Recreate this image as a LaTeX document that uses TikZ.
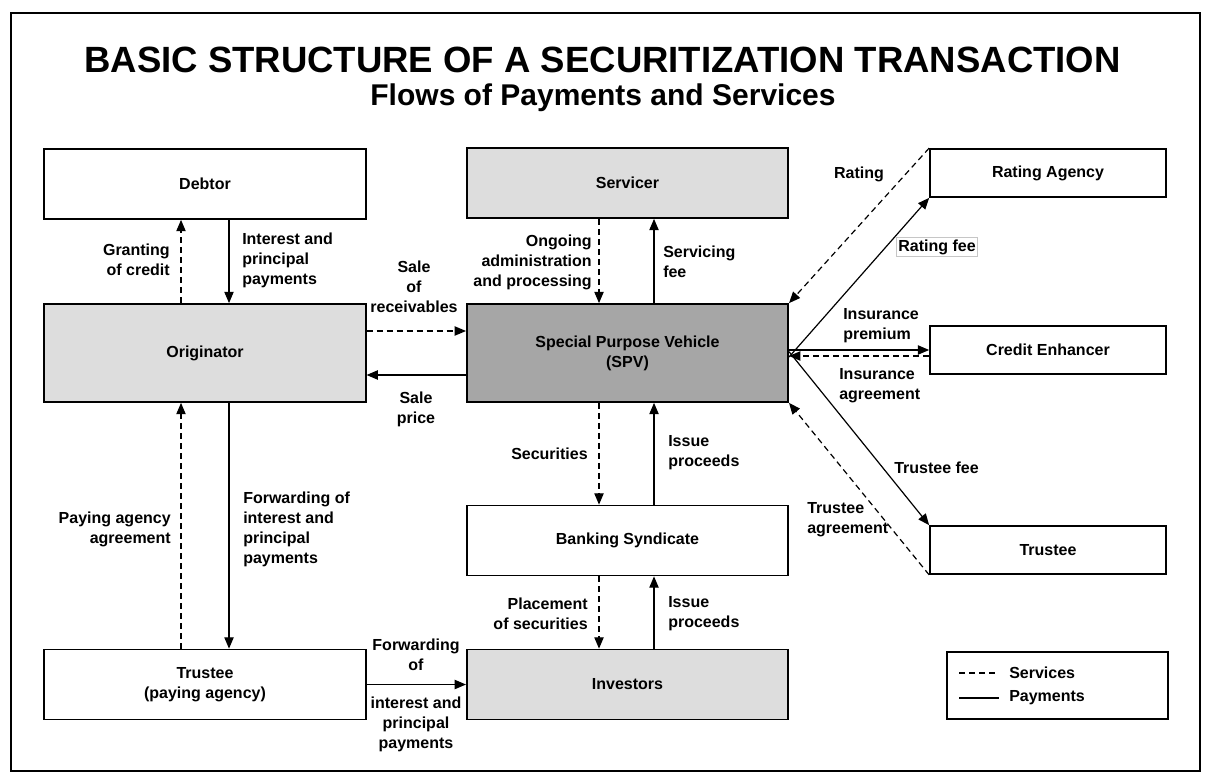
\documentclass[tikz,border=0pt]{standalone}
\usepackage{fontspec}
\setmainfont{Liberation Sans}
\usetikzlibrary{arrows.meta,calc}

\definecolor{lightfill}{RGB}{221,221,221}
\definecolor{darkfill}{RGB}{166,166,166}

\begin{document}
\begin{tikzpicture}[
    x=0.75pt, y=-0.75pt,
    txt/.style={font=\bfseries\fontsize{12}{15}\selectfont, inner sep=0pt},
    box/.style={txt, draw, line width=1.3pt, align=center, fill=white},
    wide/.style={box, minimum width=241pt, minimum height=52.5pt},
    tall/.style={box, minimum width=241pt, minimum height=73.5pt},
    small/.style={box, minimum width=177pt, minimum height=36pt},
    pay/.style={line width=0.9pt, -{Triangle[length=8.5pt, width=7pt]}},
    svc/.style={pay, dash pattern=on 4.5pt off 3pt},
    lbl/.style={txt},
]
\useasboundingbox (0,0) rectangle (1210,784);

% =========================================================
% FRAME AND TITLES
% =========================================================
\draw[line width=1.9pt] (11,13) rectangle (1200,771);
\node[font=\bfseries\fontsize{27.4}{32}\selectfont] (title) at (602.5,60)
      {BASIC STRUCTURE OF A SECURITIZATION TRANSACTION};
\node[font=\bfseries\fontsize{22.5}{26}\selectfont] (subtitle) at (603,98)
      {Flows of Payments and Services};

% =========================================================
% BOXES
% =========================================================
\node[wide] (debtor) at (205,184) {Debtor};
\node[wide, fill=lightfill] (servicer) at (627.5,183) {Servicer};
\node[tall, fill=lightfill] (orig) at (205,353) {Originator};
\node[tall, fill=darkfill] (spv) at (627.5,353) {Special Purpose Vehicle\\(SPV)};
\node[wide] (bank) at (627.5,540.5) {Banking Syndicate};
\node[wide] (trpay) at (205,684.5) {Trustee\\(paying agency)};
\node[wide, fill=lightfill] (invest) at (627.5,684.5) {Investors};

\node[small] (rating) at (1048,173) {Rating Agency};
\node[small] (enh) at (1048,350) {Credit Enhancer};
\node[small] (trustee) at (1048,550) {Trustee};

% columns and rows of the straight connectors
\coordinate (xa) at (181,0);
\coordinate (xb) at (229,0);
\coordinate (xc) at (599,0);
\coordinate (xd) at (654,0);
\coordinate (ya) at (0,331);
\coordinate (yb) at (0,375);
\coordinate (yc) at (0,350);
\coordinate (yd) at (0,356);

% =========================================================
% LEFT COLUMN
% =========================================================
\draw[svc] (orig.north -| xa) -- (debtor.south -| xa);
\draw[pay] (debtor.south -| xb) -- (orig.north -| xb);
\node[lbl, anchor=east, align=right] (granting) at (170,260) {Granting\\of credit};
\node[lbl, anchor=west, align=left] (intpay) at (242,260) {Interest and\\principal\\payments};

\draw[svc] (trpay.north -| xa) -- (orig.south -| xa);
\draw[pay] (orig.south -| xb) -- (trpay.north -| xb);
\node[lbl, anchor=east, align=right] (payagr) at (171,529) {Paying agency\\agreement};
\node[lbl, anchor=west, align=left] (fwd) at (243,529)
      {Forwarding of\\interest and\\principal\\payments};

% =========================================================
% ORIGINATOR <-> SPV, TRUSTEE -> INVESTORS
% =========================================================
\draw[svc] (orig.east |- ya) -- (spv.west |- ya);
\draw[pay] (spv.west |- yb) -- (orig.east |- yb);
\node[lbl, align=center] (sale) at (414,287) {Sale\\of\\receivables};
\node[lbl, align=center] (price) at (416,409) {Sale\\price};

\draw[pay] (trpay.east) -- (invest.west);
\node[lbl, align=center] (fwdof) at (416,655) {Forwarding\\of};
\node[lbl, align=center] (fwdint) at (416,724) {interest and\\principal\\payments};

% =========================================================
% MIDDLE COLUMN
% =========================================================
\draw[svc] (servicer.south -| xc) -- (spv.north -| xc);
\draw[pay] (spv.north -| xd) -- (servicer.south -| xd);
\node[lbl, anchor=east, align=right] (ongoing) at (592,262)
      {Ongoing\\administration\\and processing};
\node[lbl, anchor=west, align=left] (servfee) at (663,262) {Servicing\\fee};

\draw[svc] (spv.south -| xc) -- (bank.north -| xc);
\draw[pay] (bank.north -| xd) -- (spv.south -| xd);
\node[lbl, anchor=east] (secur) at (588,454) {Securities};
\node[lbl, anchor=west, align=left] (issue1) at (668,453) {Issue\\proceeds};

\draw[svc] (bank.south -| xc) -- (invest.north -| xc);
\draw[pay] (invest.north -| xd) -- (bank.south -| xd);
\node[lbl, anchor=east, align=right] (place) at (588,614) {Placement\\of securities};
\node[lbl, anchor=west, align=left] (issue2) at (668,614) {Issue\\proceeds};

% =========================================================
% RIGHT SIDE
% =========================================================
\draw[svc] (rating.north west) -- (spv.north east);
\draw[pay] ([yshift=-3]spv.east) -- (rating.south west);
\node[lbl] (ratinglbl) at (859,174) {Rating};
\node[lbl, draw=gray!45, line width=0.6pt, inner sep=1.5pt] (ratingfee) at (937,247) {Rating fee};

\draw[pay] (spv.east |- yc) -- (enh.west |- yc);
\draw[svc] (enh.west |- yd) -- (spv.east |- yd);
\node[lbl, anchor=west, align=left] (inspre) at (843,326) {Insurance\\premium};
\node[lbl, anchor=west, align=left] (insagr) at (839,386) {Insurance\\agreement};

\draw[pay] ([yshift=1]spv.east) -- (trustee.north west);
\draw[svc] (trustee.south west) -- (spv.south east);
\node[lbl, anchor=west] (trfee) at (894,468) {Trustee fee};
\node[lbl, anchor=west, align=left] (tragr) at (807,520) {Trustee\\agreement};

% =========================================================
% LEGEND
% =========================================================
\node[draw, line width=1.3pt, minimum width=165.75pt, minimum height=50.25pt] (legend)
      at (1057.5,685.5) {};
\node[lbl, anchor=west] (svctxt) at (1009,673) {Services};
\node[lbl, anchor=west] (paytxt) at (1009,698) {Payments};
\draw[line width=0.9pt, dash pattern=on 4.5pt off 3pt]
      ($(svctxt.west)+(-50,0)$) -- ($(svctxt.west)+(-10,0)$);
\draw[line width=0.9pt] ($(paytxt.west)+(-50,0)$) -- ($(paytxt.west)+(-10,0)$);

\end{tikzpicture}
\end{document}
